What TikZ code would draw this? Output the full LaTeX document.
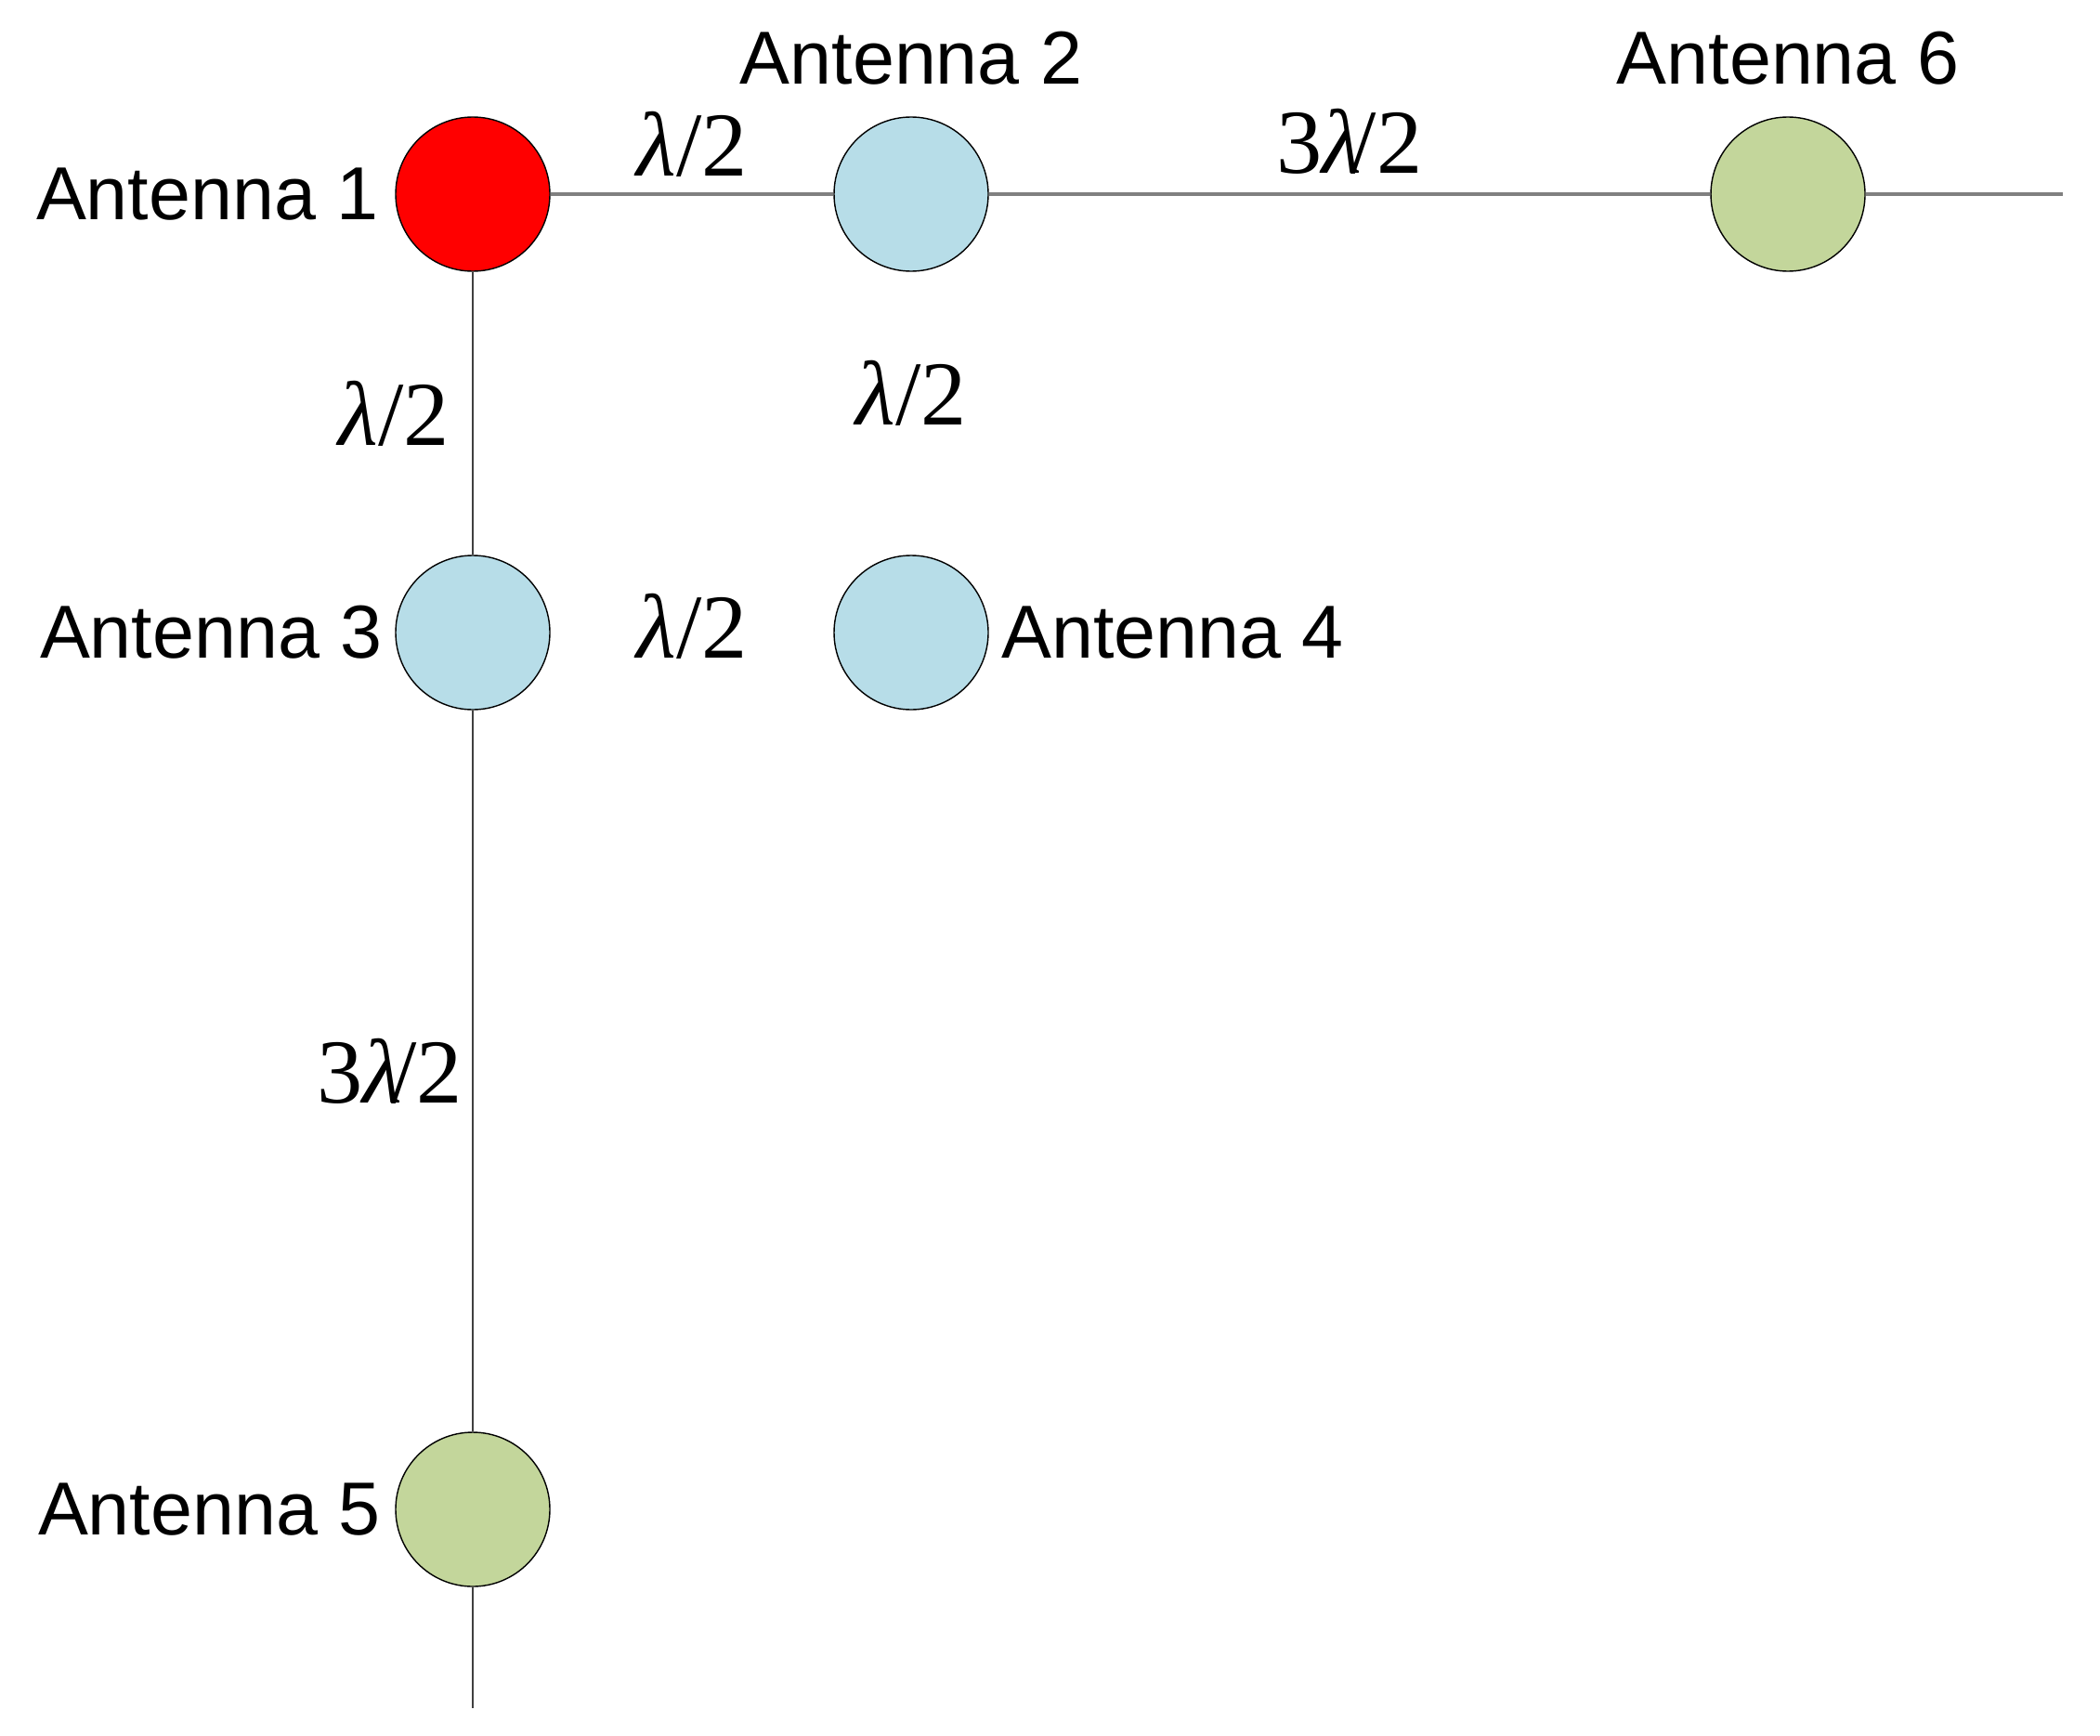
\documentclass[tikz,border=0pt]{standalone}
\usepackage{fontspec}
\newfontfamily\antfont{Liberation Sans}
\newfontfamily\distfont{Liberation Serif}
\usetikzlibrary{positioning}
\definecolor{antred}{RGB}{255,0,0}
\definecolor{antblue}{RGB}{183,221,232}
\definecolor{antgreen}{RGB}{195,214,155}
\newcommand{\lam}{{\itshape λ}}

\begin{document}
\begin{tikzpicture}[
        ant/.style={circle, draw=black, line width=0.4pt, inner sep=0pt, minimum size=1.66cm},
        antlabel/.style={inner sep=0pt, font=\antfont\fontsize{23}{27}\selectfont},
        distlabel/.style={inner sep=0pt, font=\distfont\fontsize{28}{30}\selectfont},
        hline/.style={draw=gray, line width=0.9pt},
        vline/.style={draw=black!75, line width=0.6pt}
    ]
        % page size
        \useasboundingbox (0,0) rectangle (22.61,-18.68);

        % Antennas on the two arms
        \node[ant, fill=antred] (ant1) at (5.09,-2.09) {};
        \node[ant, fill=antblue] (ant2) at (9.81,-2.09) {};
        \node[ant, fill=antgreen] (ant6) at (19.25,-2.09) {};
        \node[ant, fill=antblue] (ant3) at (5.09,-6.81) {};
        \node[ant, fill=antblue] (ant4) at (9.81,-6.81) {};
        \node[ant, fill=antgreen] (ant5) at (5.09,-16.25) {};

        % free line ends
        \coordinate (hend) at (22.21,-2.09);
        \coordinate (vend) at (5.09,-18.39);

        % Horizontal arm
        \draw[hline] (ant1) -- (ant2) node[distlabel, midway, above=0.17cm] (d12) {\lam/2};
        \draw[hline] (ant2) -- (ant6) node[distlabel, midway, above=0.2cm] (d26) {3\lam\kern-0.12em/2};
        \draw[hline] (ant6) -- (hend);

        % Vertical arm
        \draw[vline] (ant1) -- (ant3) node[distlabel, midway, left=0.24cm] (d13) {\lam/2};
        \draw[vline] (ant3) -- (ant5) node[distlabel, midway, left=0.1cm] (d35) {3\lam\kern-0.12em/2};
        \draw[vline] (ant5) -- (vend);

        % Spacing of the inner antenna
        \path (ant2) -- (ant4) node[distlabel, midway, yshift=0.22cm] (d24) {\lam/2};
        \path (ant3) -- (ant4) node[distlabel, midway, yshift=0.07cm] (d34) {\lam/2};

        % Names
        \node[antlabel, left=0.17cm of ant1] (t1) {Antenna 1};
        \node[antlabel, above=0.33cm of ant2] (t2) {Antenna 2};
        \node[antlabel, left=0.13cm of ant3] (t3) {Antenna 3};
        \node[antlabel, right=0.13cm of ant4] (t4) {Antenna 4};
        \node[antlabel, left=0.15cm of ant5] (t5) {Antenna 5};
        \node[antlabel, above=0.33cm of ant6] (t6) {Antenna 6};
\end{tikzpicture}
\end{document}
